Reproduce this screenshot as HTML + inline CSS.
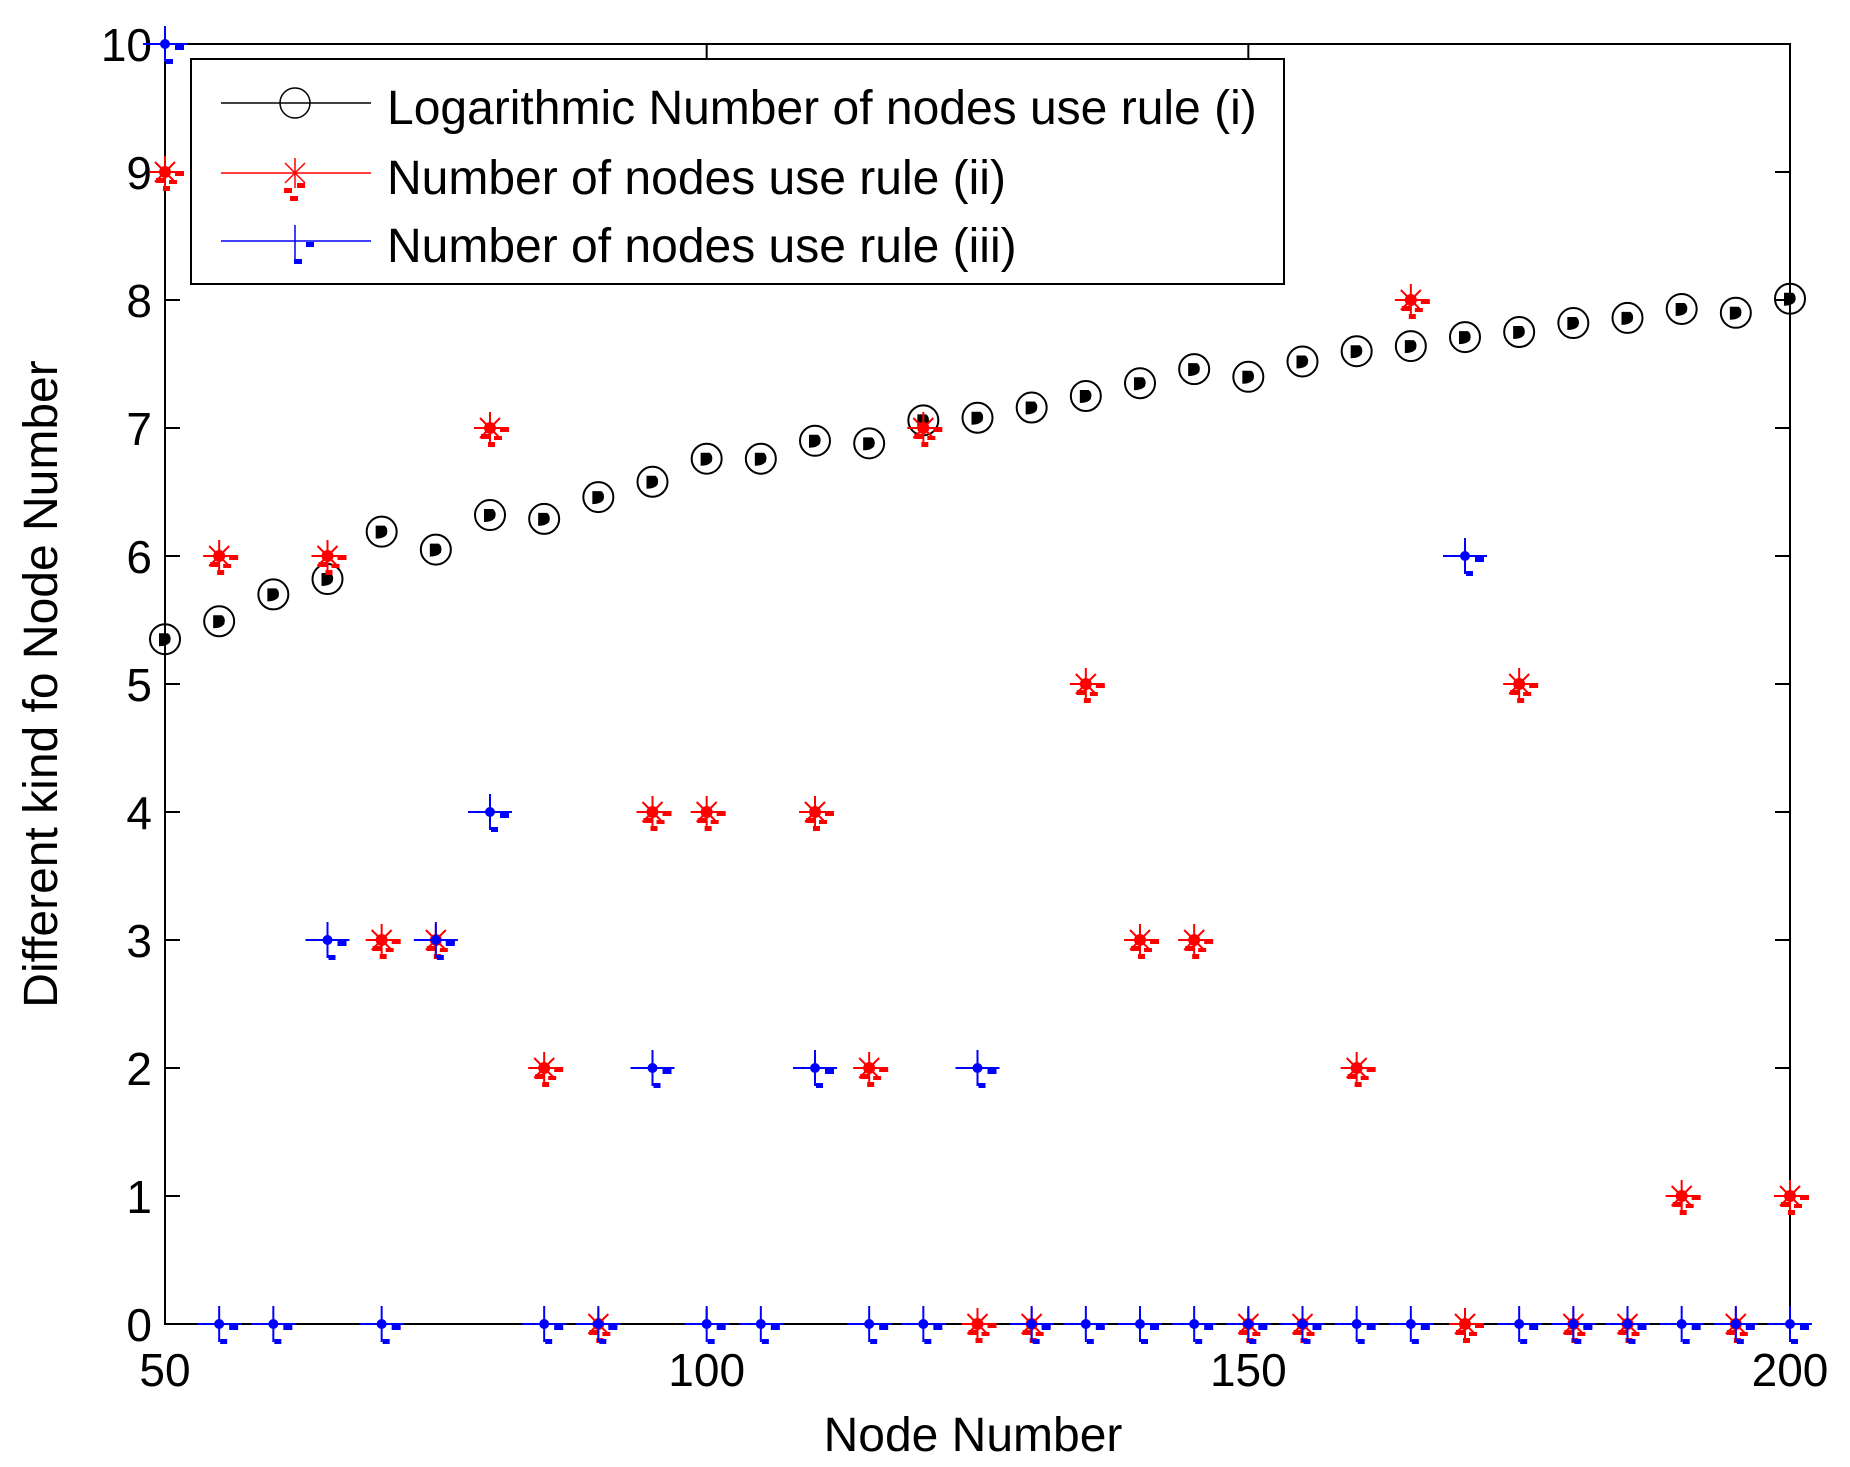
<!DOCTYPE html>
<html><head><meta charset="utf-8"><style>
html,body{margin:0;padding:0;background:#fff;width:1850px;height:1467px;overflow:hidden}
svg text{font-family:"Liberation Sans",Arial,sans-serif;fill:#000}
</style></head><body>
<svg id="s" width="1850" height="1467" viewBox="0 0 1850 1467" xmlns="http://www.w3.org/2000/svg">
<defs>
<g id="mc"><circle r="15" fill="none" stroke="#000" stroke-width="2"/><path d="M-6,-6 H3 Q7,-3 5,3 Q2,7 -6,7 Z" fill="#000"/></g>
<g id="mr"><g stroke="#f00" stroke-width="2"><line x1="-16" y1="0" x2="16" y2="0"/><line x1="0" y1="-16" x2="0" y2="16"/><line x1="-10" y1="-10" x2="10" y2="10"/><line x1="-10" y1="10" x2="10" y2="-10"/></g><circle r="6" fill="#f00"/><rect x="10" y="-1" width="9" height="5" fill="#f00"/><rect x="-9" y="6" width="9" height="5" fill="#f00"/><rect x="4" y="8" width="8" height="4" fill="#f00"/><rect x="-2" y="14" width="7" height="5" fill="#f00"/></g>
<g id="mb"><g stroke="#00f" stroke-width="2"><line x1="-22" y1="0" x2="22" y2="0"/><line x1="0" y1="-18" x2="0" y2="18"/></g><circle r="5" fill="#00f"/><rect x="10" y="1" width="9" height="5" fill="#00f"/><rect x="1" y="15" width="7" height="5" fill="#00f"/></g>
</defs>
<rect x="165" y="44" width="1625" height="1280" fill="none" stroke="#000" stroke-width="2"/>
<g id="ticks" stroke="#000" stroke-width="2"></g>
<g id="lab" font-size="46"></g>
<g id="pts"></g>
<rect x="191" y="59" width="1093" height="225" fill="#fff" stroke="#000" stroke-width="2"/>
<line x1="221" y1="103" x2="371" y2="103" stroke="#000" stroke-width="1.5"/>
<circle cx="295" cy="103" r="15" fill="none" stroke="#000" stroke-width="1.5"/>
<line x1="221" y1="173" x2="371" y2="173" stroke="#f00" stroke-width="1.5"/>
<g stroke="#f00" stroke-width="1.5"><line x1="295" y1="158" x2="295" y2="188"/><line x1="285" y1="163" x2="305" y2="183"/><line x1="285" y1="183" x2="305" y2="163"/></g>
<rect x="297" y="183" width="8" height="5" fill="#f00"/><rect x="284" y="188" width="8" height="5" fill="#f00"/><rect x="290" y="196" width="8" height="5" fill="#f00"/>
<line x1="221" y1="241" x2="371" y2="241" stroke="#00f" stroke-width="1.5"/>
<line x1="295" y1="225" x2="295" y2="260" stroke="#00f" stroke-width="1.5"/>
<rect x="306" y="242" width="8" height="5" fill="#00f"/><rect x="294" y="259" width="8" height="5" fill="#00f"/>
<g font-size="48"><text x="387" y="124">Logarithmic Number of nodes use rule (i)</text>
<text x="387" y="194">Number of nodes use rule (ii)</text>
<text x="387" y="262">Number of nodes use rule (iii)</text></g>
<text x="973" y="1451" font-size="48" text-anchor="middle">Node Number</text>
<text transform="translate(57,684) rotate(-90)" font-size="48" text-anchor="middle">Different kind fo Node Number</text>
</svg>
<script>
var X=function(v){return 165+(v-50)*1625/150},Y=function(v){return 1324-v*128};
var t=document.getElementById('ticks'),l=document.getElementById('lab'),p=document.getElementById('pts'),h='',L='';
for(var i=0;i<=10;i++){var y=Y(i);h+='<line x1="165" y1="'+y+'" x2="180" y2="'+y+'"/><line x1="1775" y1="'+y+'" x2="1790" y2="'+y+'"/>';L+='<text x="152" y="'+(y+17)+'" text-anchor="end">'+i+'</text>';}
[50,100,150,200].forEach(function(v){var x=X(v);h+='<line x1="'+x+'" y1="1324" x2="'+x+'" y2="1309"/><line x1="'+x+'" y1="44" x2="'+x+'" y2="59"/>';L+='<text x="'+x+'" y="1386" text-anchor="middle">'+v+'</text>';});
t.innerHTML=h;l.innerHTML=L;
var lg=[5.35,5.49,5.70,5.82,6.19,6.05,6.32,6.29,6.46,6.58,6.76,6.76,6.90,6.88,7.06,7.08,7.16,7.25,7.35,7.46,7.40,7.52,7.60,7.64,7.71,7.75,7.82,7.86,7.93,7.90,8.01];
var r=[9,6,null,6,3,3,7,2,0,4,4,null,4,2,7,0,0,5,3,3,0,0,2,8,0,5,0,0,1,0,1];
var b=[10,0,0,3,0,3,4,0,0,2,0,0,2,0,0,2,0,0,0,0,0,0,0,0,6,0,0,0,0,0,0];
var s='';
for(var k=0;k<31;k++){var x=X(50+5*k);s+='<use href="#mc" x="'+x+'" y="'+Y(lg[k])+'"/>';}
for(var k=0;k<31;k++){if(r[k]===null)continue;var x=X(50+5*k);s+='<use href="#mr" x="'+x+'" y="'+Y(r[k])+'"/>';}
for(var k=0;k<31;k++){var x=X(50+5*k);s+='<use href="#mb" x="'+x+'" y="'+Y(b[k])+'"/>';}
p.innerHTML=s;
</script>
</body></html>
